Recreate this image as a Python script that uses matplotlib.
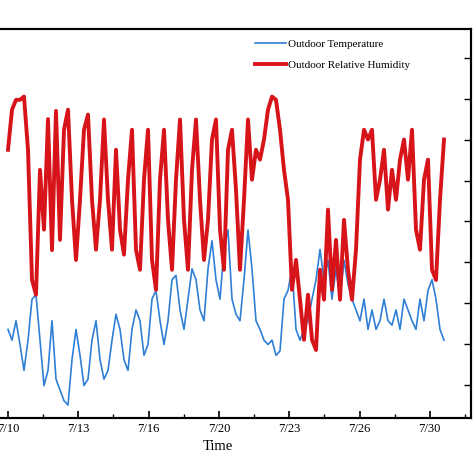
import numpy as np
import matplotlib.pyplot as plt

plt.rcParams["font.family"] = ["Liberation Serif", "DejaVu Serif"]

# readings roughly every 4.8 h, x in tick units (one tick = one label step)
step = 4 / 70.3
tick_labels = ["7/10", "7/13", "7/16", "7/20", "7/23", "7/26", "7/30"]

humidity = [65.5, 75.3, 77.7, 77.7, 78.5, 65.5, 33.7, 30.1, 60.6, 46, 73, 41, 75, 43.5,
            70.4, 75.3, 53.3, 38.6, 53.3, 70.4, 74.1, 53.3, 41.1, 53.3, 72.9, 53.3, 41.1,
            65.5, 46, 39.9, 58.2, 70.4, 41.1, 36.2, 58.2, 70.4, 38.6, 31.3, 58.2, 70.4,
            48.4, 36.2, 58.2, 72.9, 48.4, 36.2, 60.6, 72.9, 53.3, 38.6, 48.4, 68, 72.9, 46,
            36.2, 65.5, 70.4, 55.7, 36.2, 53.3, 72.9, 58.2, 65.5, 63.1, 68, 75.3, 78.5,
            77.7, 70.4, 60.6, 53.3, 31.3, 38.6, 28.9, 19.1, 30.1, 19.1, 16.6, 36.2, 28.9,
            50.9, 31.3, 43.5, 28.9, 48.4, 36.2, 28.9, 41.1, 63.1, 70.4, 68, 70.4, 53.3,
            58.2, 65.5, 50.9, 60.6, 53.3, 63.1, 68, 58.2, 70.4, 46, 41.1, 58.2, 63.1, 36.2,
            33.7, 53.3, 68]

temperature = [24.1, 23.6, 24.5, 23.4, 22.2, 23.6, 25.5, 25.7, 23.6, 21.5, 22.2, 24.5,
               21.8, 21.3, 20.8, 20.6, 22.7, 24.1, 22.9, 21.5, 21.8, 23.6, 24.5, 22.7,
               21.8, 22.2, 23.6, 24.8, 24.1, 22.7, 22.2, 24.1, 25, 24.5, 22.9, 23.4, 25.5,
               25.9, 24.5, 23.4, 24.5, 26.4, 26.6, 25, 24.1, 25.5, 26.9, 26.4, 25, 24.5,
               26.9, 28.2, 26.4, 25.5, 27.8, 28.7, 25.5, 24.8, 24.5, 26.4, 28.7, 26.9,
               24.5, 24.1, 23.6, 23.4, 23.6, 22.9, 23.1, 25.5, 25.9, 26.9, 24.1, 23.6,
               24.1, 24.5, 25.5, 26.4, 27.8, 26.4, 27.3, 25.5, 26.9, 25.5, 27.3, 26.2,
               25.5, 25, 24.5, 25.5, 24.1, 25, 24.1, 24.5, 25.5, 24.5, 24.3, 25, 24.1,
               25.5, 25, 24.5, 24.1, 25.5, 24.5, 25.9, 26.4, 25.5, 24.1, 23.6]

t_hum = np.arange(len(humidity)) * step
t_tmp = np.arange(len(temperature)) * step

fig = plt.figure(figsize=(4.74, 4.74), dpi=100)
ax = fig.add_axes([-35 / 474, 56 / 474, (471 + 35) / 474, 389 / 474])
ax2 = ax.twinx()

l1, = ax.plot(t_tmp, temperature, color="#2f7fd6", lw=1.2, label="Outdoor Temperature")
l2, = ax2.plot(t_hum, humidity, color="#d7141a", lw=2.8, label="Outdoor Relative Humidity")

ax.set_xlim(-43 / 70.3, 463 / 70.3)
ax.set_ylim(20, 38)
ax2.set_ylim(0, 95)
ax.set_xticks(range(len(tick_labels)))
ax.set_xticklabels(tick_labels, fontsize=9)
ax.set_xticks(np.arange(0.5, 6.6, 1), minor=True)
ax.tick_params(axis="x", which="major", direction="in", length=5, width=1.2)
ax.tick_params(axis="x", which="minor", direction="in", length=3, width=1.0)
ax.set_yticks([])
ax2.set_yticks(np.arange(8, 95, 10))
ax2.tick_params(axis="y", direction="in", length=5, width=1.0, labelright=False)
for a in (ax, ax2):
    for s in a.spines.values():
        s.set_linewidth(1.5)
ax.set_xlabel("Time", fontsize=10.5)

ax.legend([l1, l2], [l1.get_label(), l2.get_label()], loc="upper right",
          bbox_to_anchor=(0.9, 1.0), frameon=False, fontsize=8, handlelength=2.8,
          labelspacing=1.0, handletextpad=0.2)

fig.savefig("out.png", dpi=100)
